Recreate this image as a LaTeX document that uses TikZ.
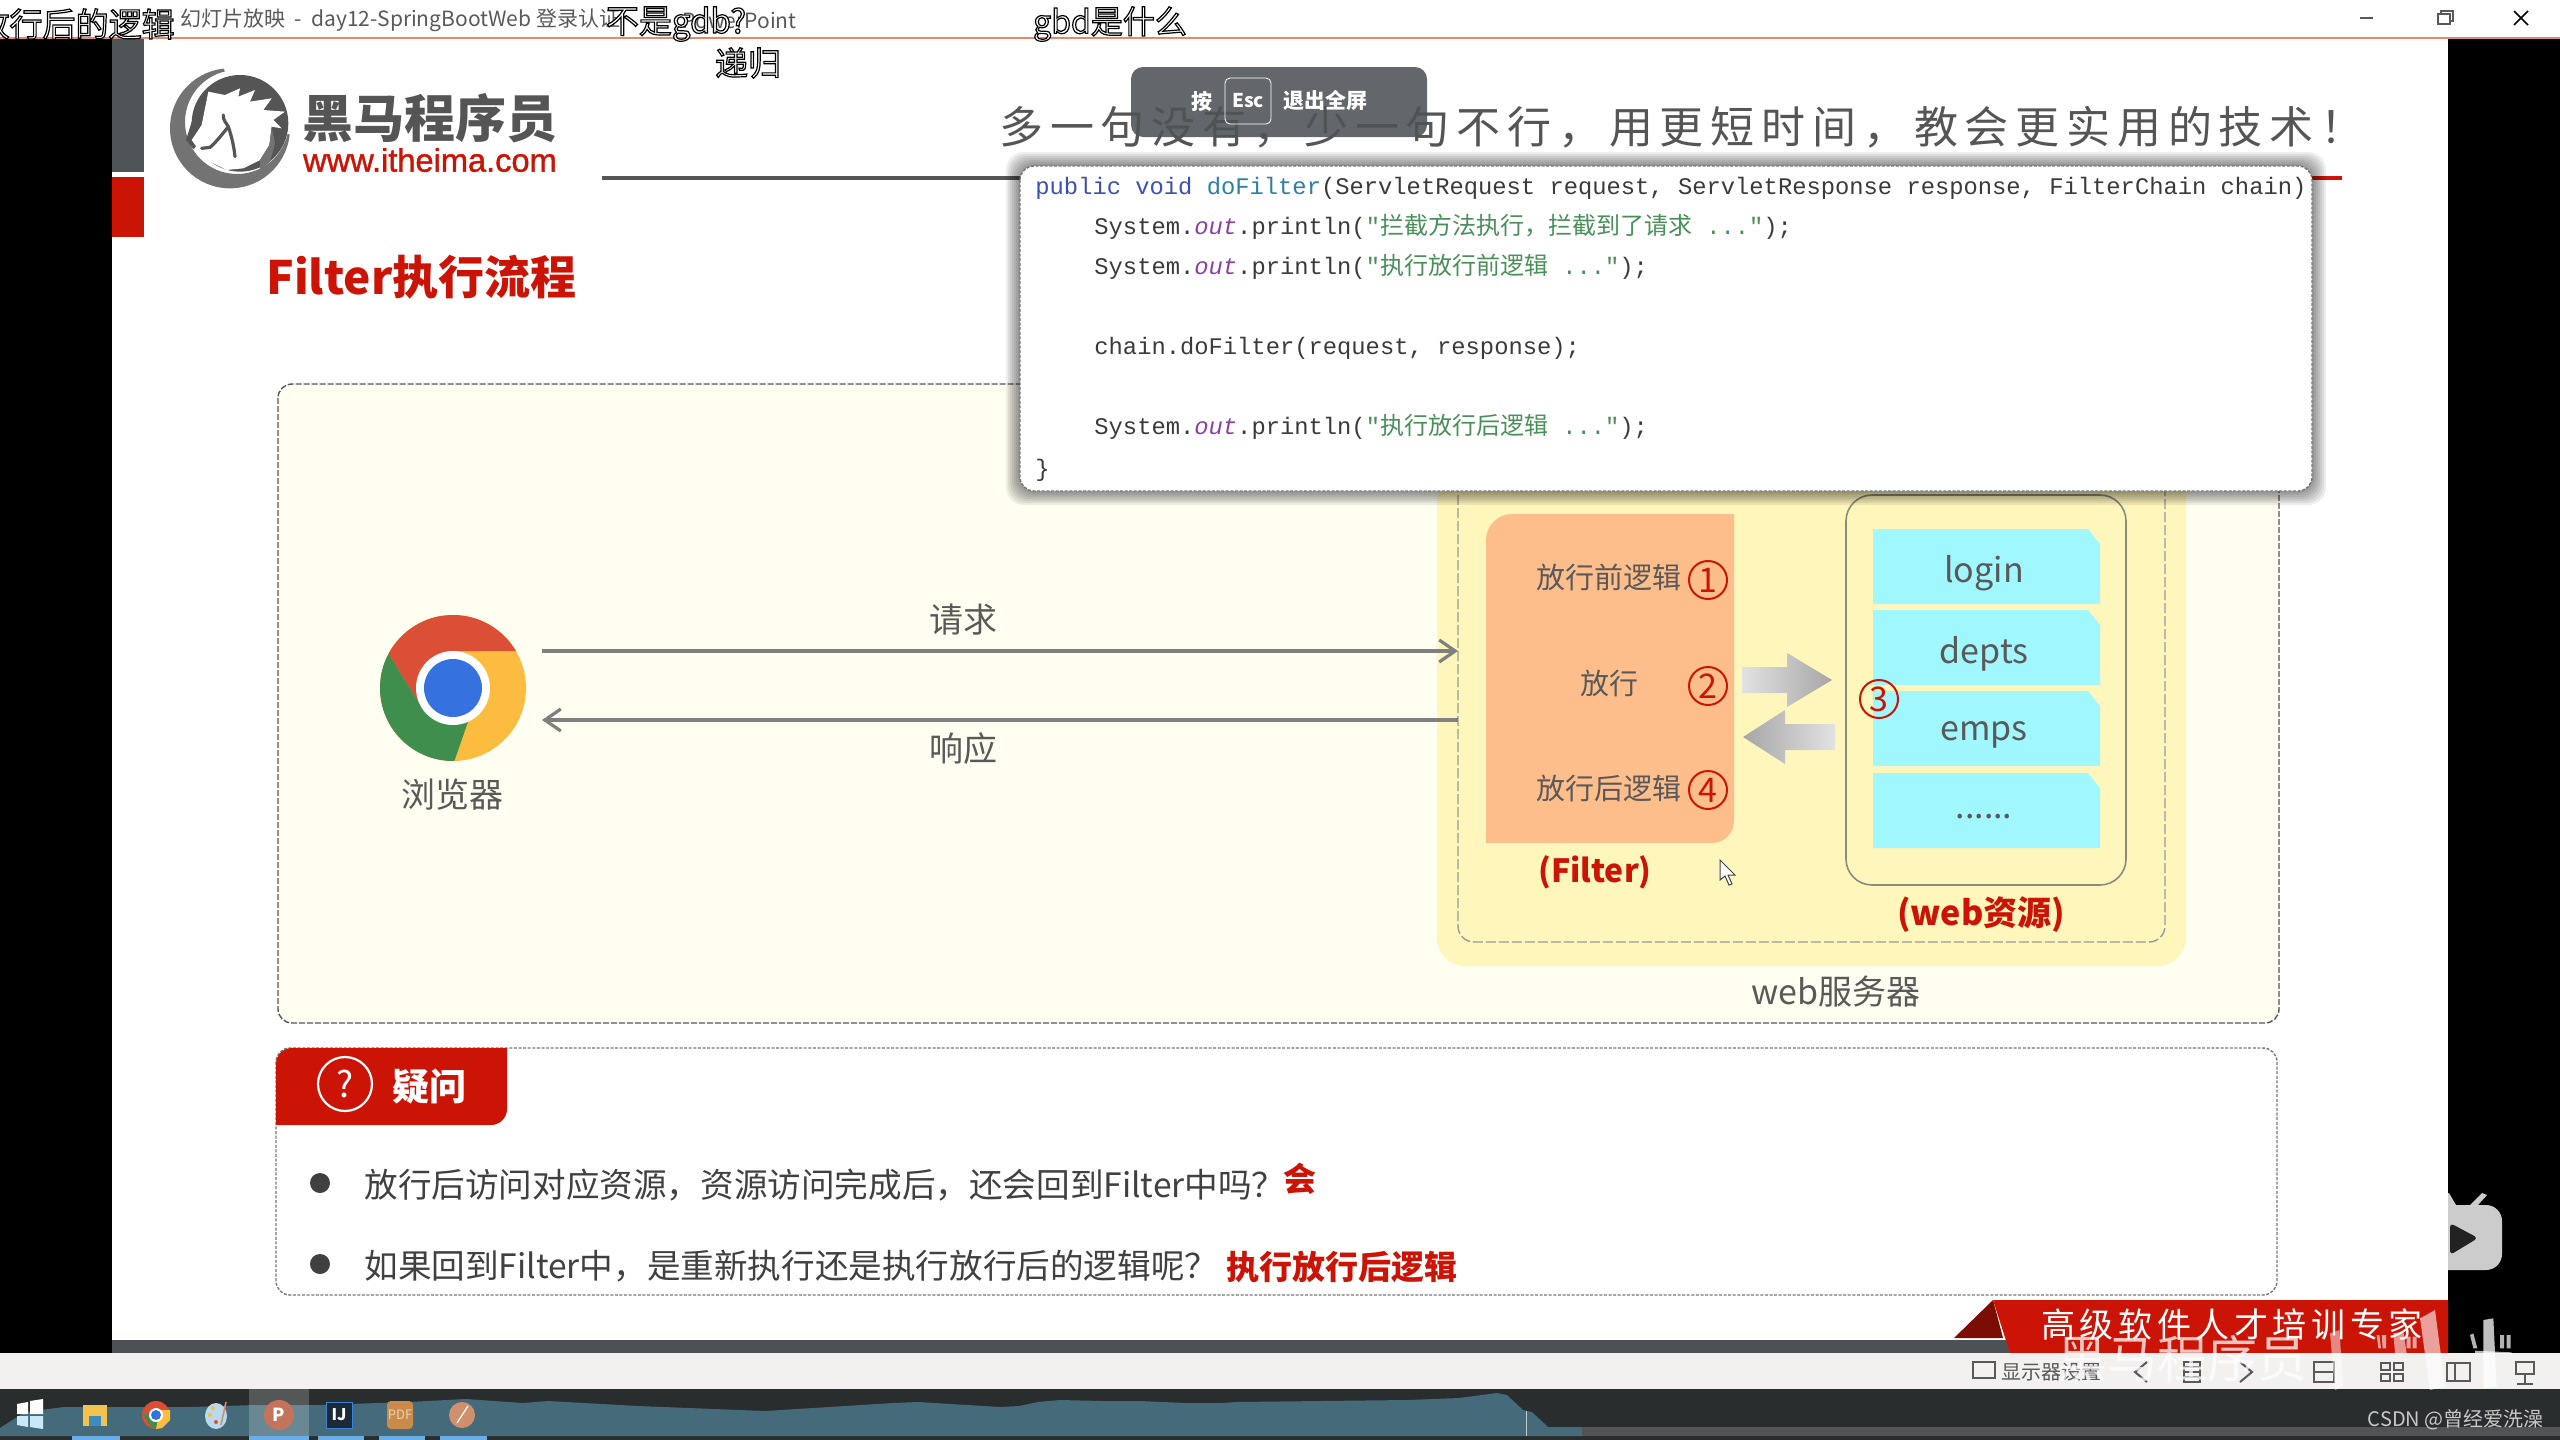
\documentclass[tikz,border=0pt]{standalone}
\usepackage{fontspec}
\usetikzlibrary{arrows.meta,shapes.geometric}
\setmainfont{Noto Sans CJK SC}
\newfontfamily\cjk{Noto Sans CJK SC}
\newfontfamily\spaced[LetterSpace=13.5]{Noto Sans CJK SC}
\newfontfamily\sloganf[LetterSpace=15.5]{Noto Sans CJK SC}
\newfontfamily\urlf[FakeBold=1.2]{Liberation Sans}
\setmonofont{Liberation Mono}
\newcommand{\fsz}[1]{\fontsize{#1}{#1}\selectfont}
\newcommand{\cc}[1]{{\cjk\fsz{12}#1}}
\newcommand{\outl}[1]{\special{pdf:code q 2 Tr 0.6 w 0 0 0 RG 1 1 1 rg}#1\special{pdf:code Q}}
\newcommand{\sixdots}{......}
\newcommand{\fc}{\char"FF0C\relax}
\newcommand{\fq}{\char"FF1F\relax}
\newcommand{\fe}{\char"FF01\relax}
\definecolor{barred}{HTML}{CB1405}
\definecolor{gtext}{HTML}{595959}
\definecolor{dtext}{HTML}{404040}
\definecolor{cream}{HTML}{FFFEF0}
\definecolor{srv}{HTML}{FFF6BC}
\definecolor{filt}{HTML}{FEBE8C}
\definecolor{cyanb}{HTML}{A0F7FF}
\definecolor{linegray}{HTML}{7F7F7F}
\definecolor{cblue}{HTML}{3B4FB5}
\definecolor{cteal}{HTML}{2E7EA6}
\definecolor{cpurp}{HTML}{8C3FA8}
\definecolor{cgreen}{HTML}{4A8F5A}
\definecolor{ctext}{HTML}{3A3A3A}
\definecolor{wline}{HTML}{E08A6E}
\definecolor{side}{HTML}{4F5557}
\definecolor{ring}{HTML}{737373}
\definecolor{d55}{HTML}{555555}
\definecolor{popup}{HTML}{4E5357}
\definecolor{g99}{HTML}{999999}
\definecolor{g8a}{HTML}{8A8A80}
\definecolor{g77}{HTML}{777777}
\definecolor{g44}{HTML}{444444}
\definecolor{g22}{HTML}{222222}
\definecolor{gradl}{HTML}{E2E2E2}
\definecolor{gradd}{HTML}{A6A6A6}
\definecolor{chy}{HTML}{FBBC3F}
\definecolor{chr}{HTML}{DB4F37}
\definecolor{chg}{HTML}{3F8E4D}
\definecolor{chb}{HTML}{3572E0}
\definecolor{botbar}{HTML}{4C5254}
\definecolor{darkred}{HTML}{7A0E05}
\definecolor{tool}{HTML}{F3F1F0}
\definecolor{task}{HTML}{2A2D2E}
\definecolor{strip}{HTML}{515355}
\definecolor{wave}{HTML}{456A7A}
\definecolor{indic}{HTML}{6AAEE8}
\definecolor{winb}{HTML}{C8EAF8}
\definecolor{folder}{HTML}{F2C14E}
\definecolor{fold2}{HTML}{3D8BC4}
\definecolor{paintc}{HTML}{B9D9EC}
\definecolor{pptc}{HTML}{C4745A}
\definecolor{ijb}{HTML}{3B82D8}
\definecolor{ijf}{HTML}{1B2A36}
\definecolor{pdfc}{HTML}{C98A4A}
\definecolor{pdft}{HTML}{EBD3B0}
\definecolor{feat}{HTML}{D0906E}
\definecolor{csdn}{HTML}{C8C8C8}
\tikzset{
 lbl/.style={inner sep=0,text=gtext,font=\fsz{17}},
 redlbl/.style={inner sep=0,text=barred,font=\bfseries\fsz{17}},
 numc/.style={circle,draw=barred,line width=1pt,minimum size=19pt,inner sep=0,text=barred,font=\fsz{17}},
 code/.style={inner sep=0,anchor=base west,text=ctext,font=\ttfamily\fsz{11.9}},
 q/.style={inner sep=0,anchor=west,text=dtext,font=\fsz{16.8}},
 res/.style={inner sep=0,text=gtext,font=\fsz{17}},
 flow/.style={draw=linegray,line width=2.2pt,-{Straight Barb[length=8pt,width=11pt,line width=1.6pt]}},
 dashbox/.style={dash pattern=on 3pt off 1pt,line width=.7pt},
 icon/.style={draw=gtext,line width=1pt},
 subt/.style={inner sep=0,text=white,font=\fsz{16.5}},
}
\begin{document}
\begin{tikzpicture}[x=0.5pt,y=-0.5pt]
\useasboundingbox (0,0) rectangle (2560,1440);
% window
\fill[black] (0,0) rectangle (2560,1440);
\fill[white] (0,0) rectangle (2560,37);
\fill[white] (112,37) rectangle (2448,1353);
\fill[wline] (0,37) rectangle (2560,39);
\node[inner sep=0,anchor=west,text=gtext,font=\fsz{10.5}] (wintitle) at (180,20) {幻灯片放映\ \ -\ \ day12-SpringBootWeb 登录认证};
\node[inner sep=0,anchor=east,text=gtext,font=\fsz{10.5}] (wintitleb) at (797,20) {PowerPoint};
\draw[gtext,line width=.7pt] (2360,18) -- (2373,18);
\draw[gtext,line width=.7pt] (2438,14) rectangle (2450,24) (2441,14) -- (2441,11) -- (2453,11) -- (2453,21) -- (2450,21);
\draw[black,line width=.8pt] (2514,11) -- (2528,25) (2528,11) -- (2514,25);
% left bars
\fill[side] (112,39) rectangle (144,172);
\fill[barred] (112,177) rectangle (144,237);
% logo
\begin{scope}[shift={(160,60)},x=0.16667pt,y=-0.16667pt]
\fill[ring,even odd rule] (210,205) circle (180) (231,186) circle (156);
\fill[white] (188,12) -- (420,12) -- (420,230) -- (240,190) -- cycle;
\fill[d55] (240,190) circle (145);
\fill[d55] (100,170) -- (78,240) -- (100,267) -- (110,260) -- (130,200) -- cycle;
\fill[white] (145,95) -- (195,105) -- (240,85) -- (235,110) -- (285,90) -- (270,125) -- (335,115) -- (310,150) -- (375,155) -- (340,180) -- (365,205) -- (335,200) -- (328,255) -- (300,300) -- (250,325) -- (200,330) -- (150,305) -- (120,280) -- (105,265) -- (108,258) -- (95,240) -- (125,195) -- cycle;
\fill[ring] (328,255) -- (335,200) -- (345,250) -- (330,305) -- (300,330) -- (300,300) -- cycle;
\draw[d55,line width=1.6pt,line cap=round] (190,165) .. controls (188,180) and (200,190) .. (205,200) .. controls (215,230) and (222,260) .. (225,290);
\draw[d55,line width=1.6pt,line cap=round] (205,200) .. controls (185,225) and (165,250) .. (150,262) -- (125,265);
\end{scope}
\node[inner sep=0,text=d55,font=\bfseries\fsz{25.5}] (logotxt) at (430,118) {黑马程序员};
\node[inner sep=0,text=barred,font=\urlf\fsz{16.3}] (logourl) at (430,160) {www.itheima.com};
\draw[d55,line width=2.4pt] (602,178) -- (1030,178);
\draw[barred,line width=2.4pt] (2300,178) -- (2342,178);
\node[inner sep=0,text=d55,font=\sloganf\fsz{22}] (slogan) at (1682,127) {多一句没有\fc 少一句不行\fc 用更短时间\fc 教会更实用的技术\fe};
\node[inner sep=0,anchor=west,text=barred,font=\bfseries\fsz{23}] (ttl) at (266,277) {Filter执行流程};
% popup
\fill[popup,fill opacity=.88,rounded corners=6pt] (1131,67) rectangle (1427,137);
\node[inner sep=0,text=white,font=\bfseries\fsz{10.5}] (pa) at (1202,101) {按};
\node[draw=white,rounded corners=2.5pt,minimum width=23pt,minimum height=23pt,inner sep=0,text=white,font=\bfseries\fsz{9.5}] (pb) at (1248,101) {Esc};
\node[inner sep=0,text=white,font=\bfseries\fsz{10.5}] (pc) at (1325,101) {退出全屏};
% main dashed box
\draw[fill=cream,draw=d55,dashbox,rounded corners=7pt] (278,384) rectangle (2279,1023);
% web server
\fill[srv,rounded corners=14pt] (1437,440) rectangle (2186,966);
\draw[g99,line width=.7pt,dash pattern=on 5pt off 1.5pt,rounded corners=8pt] (1458,440) rectangle (2165,942);
% filter
\fill[filt] (1734,514) -- (1734,820) [rounded corners=11pt] -- (1734,843) [sharp corners] -- (1486,843) -- (1486,540) [rounded corners=13pt] -- (1486,514) [sharp corners] -- cycle;
\node[lbl,font=\fsz{14.5}] (f1) at (1609,577) {放行前逻辑};
\node[lbl,font=\fsz{14.5}] (f2) at (1609,683) {放行};
\node[lbl,font=\fsz{14.5}] (f3) at (1609,788) {放行后逻辑};
\node[numc] (n1) at (1708,580) {1};
\node[numc] (n2) at (1708,686) {2};
\node[numc] (n4) at (1708,790) {4};
\node[redlbl,font=\bfseries\fsz{16}] (filterlbl) at (1595,872) {(Filter)};
% web resources
\draw[g8a,line width=.8pt,rounded corners=13pt] (1846,495) rectangle (2126,885);
\foreach \t/\nm/\txt in {529/login/login,610/depts/depts,691/emps/emps,773/more/\sixdots}{
 \fill[cyanb] (1873,\t) -- (2088,\t) -- (2100,\t+15) -- (2100,\t+75) -- (1873,\t+75) -- cycle;
 \node[res] (\nm) at (1984,\t+44) {\txt};
}
\node[numc] (n3) at (1879,699) {3};
\node[redlbl] (weblbl) at (1981,915) {(web资源)};
\node[lbl] (srvlbl) at (1836,992) {web服务器};
% gradient arrows
\shade[left color=gradl,right color=gradd] (1742,667) -- (1787,667) -- (1787,653) -- (1832,680) -- (1787,707) -- (1787,693) -- (1742,693) -- cycle;
\shade[left color=gradd,right color=gradl] (1835,724) -- (1785,724) -- (1785,710) -- (1743,737) -- (1785,764) -- (1785,750) -- (1835,750) -- cycle;
% chrome
\node[circle,fill=chy,minimum size=73pt,inner sep=0] (chrome) at (453,688) {};
\begin{scope}
\clip (453,688) circle (73);
\fill[chr] (453,651) -- (540,651) -- (540,600) -- (360,600) -- (360,610) -- (381,640) -- (388,653) -- (426,714) -- cycle;
\fill[chg] (370,628) -- (388,653) -- (426,714) -- (470,716) -- (453,765) -- (360,780) -- (360,628) -- cycle;
\end{scope}
\node[circle,fill=white,minimum size=37pt,inner sep=0] (chromew) at (453,688) {};
\node[circle,fill=chb,minimum size=29pt,inner sep=0] (chromeb) at (453,688) {};
\node[lbl] (browser) at (452,795) {浏览器};
% connectors
\coordinate (reqA) at (542,651);
\coordinate (reqB) at (1458,651);
\coordinate (respA) at (1458,720);
\coordinate (respB) at (542,720);
\draw[flow] (reqA) -- (reqB);
\draw[flow] (respA) -- (respB);
\node[lbl] (reqlbl) at (963,620) {请求};
\node[lbl] (resplbl) at (963,749) {响应};
% code box
\foreach \d in {14,12,10,8,6,4,2}{
 \fill[black,fill opacity=.07,rounded corners=9pt] (1020-\d,166-\d) rectangle (2312+\d,491+\d);
}
\draw[fill=white,draw=g77,dash pattern=on 1.5pt off .8pt,line width=.7pt,rounded corners=7pt] (1020,166) rectangle (2312,491);
\node[code] at (1035,194) (c1) {\textcolor{cblue}{public void} \textcolor{cteal}{doFilter}(ServletRequest request, ServletResponse response, FilterChain chain)};
\node[code] at (1094,234) (c2) {System.\textcolor{cpurp}{\textit{out}}.println(\textcolor{cgreen}{"\cc{拦截方法执行\fc 拦截到了请求} ..."});};
\node[code] at (1094,274) (c3) {System.\textcolor{cpurp}{\textit{out}}.println(\textcolor{cgreen}{"\cc{执行放行前逻辑} ..."});};
\node[code] at (1094,354) (c4) {chain.doFilter(request, response);};
\node[code] at (1094,434) (c5) {System.\textcolor{cpurp}{\textit{out}}.println(\textcolor{cgreen}{"\cc{执行放行后逻辑} ..."});};
\node[code] at (1035,476) (c6) {\}};
% question box
\draw[fill=white,draw=g77,dash pattern=on 1.5pt off .8pt,line width=.7pt,rounded corners=7pt] (276,1048) rectangle (2277,1295);
\fill[barred] (276,1125) -- (276,1064) [rounded corners=8pt] -- (276,1048) [sharp corners] -- (507,1048) -- (507,1105) [rounded corners=8pt] -- (507,1125) [sharp corners] -- cycle;
\node[circle,draw=white,line width=1.1pt,minimum size=27pt,inner sep=0,text=white,font=\fsz{18}] (qm) at (345,1084) {?};
\node[inner sep=0,text=white,font=\bfseries\fsz{18.5}] (yiwen) at (429,1087) {疑问};
\node[circle,fill=dtext,minimum size=10pt,inner sep=0] (b1) at (320,1183) {};
\node[circle,fill=dtext,minimum size=10pt,inner sep=0] (b2) at (320,1264) {};
\node[q] (q1) at (364,1185) {放行后访问对应资源\fc 资源访问完成后\fc 还会回到Filter中吗\fq};
\node[inner sep=0,text=barred,font=\bfseries\fsz{16.5}] (a1) at (1300,1179) {会};
\node[q] (q2) at (364,1266) {如果回到Filter中\fc 是重新执行还是执行放行后的逻辑呢\fq};
\node[inner sep=0,anchor=west,text=barred,font=\bfseries\fsz{16.5}] (a2) at (1226,1267) {执行放行后逻辑};
% cursor
\draw[fill=white,draw=g44,line width=.5pt] (1720,860) -- (1720,880) -- (1725,876) -- (1729,885) -- (1732,884) -- (1728,875) -- (1735,875) -- cycle;
% footer
\fill[botbar] (112,1340) rectangle (2020,1353);
\fill[darkred] (1993,1300) -- (1954,1338) -- (2003,1338) -- cycle;
\fill[barred] (1993,1300) -- (2448,1300) -- (2448,1353) -- (2010,1353) -- cycle;
\node[inner sep=0,text=white,font=\spaced\fsz{17}] (banner) at (2232,1324) {高级软件人才培训专家};
\fill[tool] (0,1353) rectangle (2560,1389);
\fill[task] (0,1389) rectangle (2560,1440);
% toolbar
\node[inner sep=0,anchor=west,text=gtext,font=\fsz{10}] (disp) at (2001,1372) {显示器设置};
\draw[icon] (1973,1362) rectangle (1995,1378);
\draw[icon] (2147,1362) -- (2135,1372) -- (2147,1382);
\draw[icon] (2184,1362) rectangle (2200,1382) (2184,1367) -- (2200,1367) (2184,1372) -- (2200,1372) (2184,1377) -- (2200,1377);
\draw[icon] (2240,1362) -- (2252,1372) -- (2240,1382);
\draw[icon] (2314,1362) rectangle (2334,1382) (2314,1372) -- (2334,1372);
\draw[icon] (2381,1363) rectangle (2390,1370) (2394,1363) rectangle (2403,1370) (2381,1374) rectangle (2390,1381) (2394,1374) rectangle (2403,1381);
\draw[icon] (2447,1363) rectangle (2470,1381) (2455,1363) -- (2455,1381);
\draw[icon] (2516,1362) rectangle (2534,1374) (2525,1374) -- (2525,1384) (2517,1384) -- (2533,1384);
% watermark
\node[inner sep=0,text=white,text opacity=.75,font=\fsz{25}] (wm) at (2182,1358) {黑马程序员};
\begin{scope}[shift={(2280,1290)},x=0.16667pt,y=-0.16667pt]
\fill[white,fill opacity=.5] (150,130) -- (178,120) -- (190,290) -- (165,300) -- cycle;
\fill[white,fill opacity=.6] (420,85) -- (465,60) -- (495,290) -- (450,300) -- cycle;
\fill[white,fill opacity=.55] (340,130) -- (370,125) -- (380,190) -- (345,190) -- cycle;
\fill[white,fill opacity=.6] (290,135) -- (298,135) -- (303,175) -- (295,175) -- cycle (305,135) -- (318,135) -- (318,175) -- (308,175) -- cycle (380,140) -- (392,140) -- (392,175) -- (380,175) -- cycle (398,140) -- (410,140) -- (410,175) -- (398,175) -- cycle;
\fill[white,fill opacity=.75] (610,90) -- (640,85) -- (650,290) -- (610,295) -- cycle;
\fill[white,fill opacity=.7] (570,135) -- (580,130) -- (592,175) -- (580,175) -- cycle (660,135) -- (672,135) -- (672,175) -- (660,175) -- cycle (680,135) -- (692,135) -- (692,175) -- (680,175) -- cycle (585,182) -- (695,187) -- (695,192) -- (585,190) -- cycle;
\end{scope}
% bilibili icon
\begin{scope}
\fill[white,fill opacity=.8,rounded corners=8pt] (2422,1205) rectangle (2502,1270);
\fill[white,fill opacity=.8] (2444,1195) -- (2449,1193) -- (2456,1205) -- (2448,1205) -- cycle (2482,1193) -- (2487,1195) -- (2478,1205) -- (2470,1205) -- cycle;
\fill[g22,rounded corners=2pt] (2450,1223) -- (2478,1238) -- (2450,1255) -- cycle;
\end{scope}
% taskbar
\fill[strip] (1582,1427) rectangle (2560,1436);
\fill[wave] (0,1428) -- (25,1412) -- (64,1407) -- (128,1407) -- (191,1407) -- (255,1405) -- (319,1405) -- (408,1402) -- (466,1399) -- (523,1403) -- (548,1401) -- (638,1406) -- (765,1411) -- (829,1407) -- (893,1403) -- (918,1402) -- (1000,1407) -- (1019,1406) -- (1038,1402) -- (1060,1400) -- (1102,1401) -- (1140,1401) -- (1185,1403) -- (1223,1403) -- (1236,1402) -- (1408,1400) -- (1459,1398) -- (1497,1393) -- (1507,1395) -- (1523,1410) -- (1532,1412) -- (1548,1427) -- (1582,1427) -- (1582,1436) -- (0,1436) -- cycle;
\draw[csdn,line width=.4pt] (1526,1411) -- (1526,1436);
\fill[white,fill opacity=.2] (249,1389) rectangle (309,1436);
\foreach \a/\b in {72/120,249/309,318/364,379/425,440/487}{\fill[indic] (\a,1436) rectangle (\b,1440);}
\fill[white] (17,1404) -- (28,1402) -- (28,1414) -- (17,1414) -- cycle (30,1401) -- (43,1399) -- (43,1414) -- (30,1414) -- cycle;
\fill[winb] (17,1416) -- (28,1416) -- (28,1427) -- (17,1425) -- cycle (30,1416) -- (43,1416) -- (43,1429) -- (30,1427) -- cycle;
\fill[folder] (83,1405) rectangle (107,1426);
\fill[fold2] (89,1416) rectangle (101,1426);
\node[circle,fill=chr,minimum size=14pt,inner sep=0] (tc) at (156,1415) {};
\fill[chg] (142,1413) -- (152,1428) -- (156,1429) -- (160,1418) -- cycle;
\fill[chy] (160,1410) -- (170,1410) -- (170,1420) -- (162,1428) -- (156,1429) -- cycle;
\node[circle,fill=white,minimum size=7pt,inner sep=0] (tcw) at (156,1415) {};
\node[circle,fill=chb,minimum size=5pt,inner sep=0] (tcb) at (156,1415) {};
\node[ellipse,fill=paintc,minimum width=11pt,minimum height=13pt,inner sep=0] (paint) at (216,1416) {};
\fill[chy] (213,1408) circle (2) (210,1415) circle (2);
\fill[chr] (216,1422) circle (2);
\draw[feat,line width=.8pt] (221,1425) -- (226,1402);
\node[circle,fill=pptc,minimum size=15pt,inner sep=0,text=white,font=\bfseries\fsz{9}] (ppt) at (279,1415) {P};
\node[draw=ijb,fill=ijf,minimum width=13pt,minimum height=13pt,inner sep=0,text=white,font=\bfseries\fsz{8}] (ij) at (339,1415) {IJ};
\node[rounded corners=2pt,fill=pdfc,minimum width=13pt,minimum height=14pt,inner sep=0,text=pdft,font=\fsz{6.5}] (pdfi) at (400,1415) {PDF};
\node[circle,fill=feat,minimum size=13pt,inner sep=0] (feather) at (462,1415) {};
\draw[white,line width=.6pt] (457,1423) -- (468,1406);
\node[inner sep=0,anchor=east,text=csdn,font=\fsz{10}] (csdntxt) at (2544,1420) {CSDN @曾经爱洗澡};
% subtitles
\node[subt,anchor=east] (s1) at (175,24) {\outl{放行后的逻辑}};
\node[subt] (s2) at (676,24) {\outl{不是gdb?}};
\node[subt] (s3) at (748,63) {\outl{递归}};
\node[subt,font=\fsz{16}] (s4) at (1110,24) {\outl{gbd是什么}};
\end{tikzpicture}
\end{document}
